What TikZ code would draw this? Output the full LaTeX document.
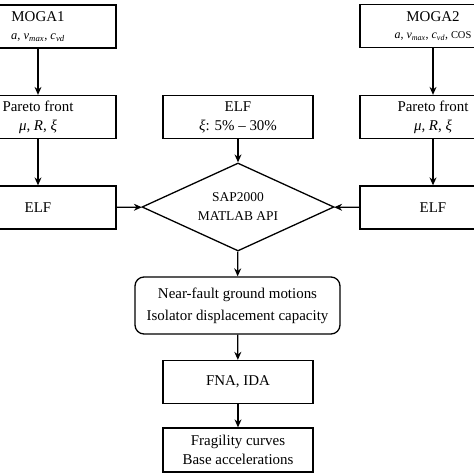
\documentclass[tikz,border=0pt]{standalone}
\usepackage{fontspec}
\setmainfont{Liberation Serif}
\usetikzlibrary{shapes.geometric,arrows.meta}
\begin{document}
\begin{tikzpicture}[x=1bp,y=-1bp,
  box/.style={draw, line width=1.3pt, minimum width=#1, minimum height=43bp,
    inner sep=0pt, align=center, font=\fontsize{15}{19}\selectfont},
  box/.default=150bp,
  rbox/.style={draw, line width=1.3pt, rounded corners=9bp, minimum width=205bp,
    minimum height=57bp, inner sep=0pt, align=center, font=\fontsize{15}{22}\selectfont},
  dia/.style={draw, line width=1.3pt, diamond, aspect=2.18, minimum width=192bp,
    minimum height=88bp, inner sep=0pt, align=center, font=\fontsize{13.5}{19}\selectfont},
  arr/.style={line width=1.3pt, -{Stealth[length=8pt,width=7pt]}}
]
\useasboundingbox (0,0) rectangle (474,474);
\clip (0,0) rectangle (474,474);
\fill[white] (0,0) rectangle (474,474);

\node[box=156bp, font=\fontsize{15}{18}\selectfont] (moga1) at (38,26.5)
  {MOGA1\\{\fontsize{12.5}{12.5}\selectfont\textit{a}, \textit{v}\textsubscript{\textit{max}}, \textit{c}\textsubscript{\textit{vd}}}};
\node[box=146bp, font=\fontsize{15}{18}\selectfont] (moga2) at (433,26)
  {MOGA2\\{\fontsize{12}{12}\selectfont\textit{a}, \textit{v}\textsubscript{\textit{max}}, \textit{c}\textsubscript{\textit{vd}}, {\fontsize{10.5}{10.5}\selectfont COS}}};

\node[box=156bp] (par1) at (38,117) {Pareto front\\\textit{μ}, \textit{R}, \textit{ξ}};
\node[box=150bp] (elfc) at (238,117) {ELF\\\textit{ξ}: 5\% – 30\%};
\node[box=146bp] (par2) at (433,117) {Pareto front\\\textit{μ}, \textit{R}, \textit{ξ}};

\node[box=156bp] (elf1) at (38,207.5) {ELF};
\node[box=146bp] (elf2) at (433,207.5) {ELF};
\node[dia] (sap) at (238,207) {SAP2000\\MATLAB API};

\node[rbox] (near) at (237.5,305.5) {Near-fault ground motions\\Isolator displacement capacity};
\node[box=150bp] (fna) at (238,382) {FNA, IDA};
\node[box=150bp, minimum height=44bp] (frag) at (238,450) {Fragility curves\\Base accelerations};

\draw[arr] (moga1) -- (par1);
\draw[arr] (par1) -- (elf1);
\draw[arr] (moga2) -- (par2);
\draw[arr] (par2) -- (elf2);
\draw[arr] (elfc) -- (sap);
\draw[arr] (elf1) -- (sap);
\draw[arr] (elf2) -- (sap);
\draw[arr] (sap) -- (near);
\draw[arr] (near) -- (fna);
\draw[arr] (fna) -- (frag);
\end{tikzpicture}
\end{document}
